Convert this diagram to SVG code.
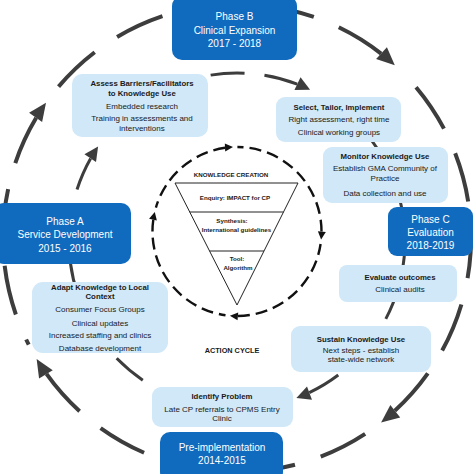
<svg xmlns="http://www.w3.org/2000/svg" width="474" height="474" viewBox="0 0 474 474">
<style>
 .outer{fill:none;stroke:#3d3d3d;stroke-width:4;stroke-dasharray:50 27}
 .mid{fill:none;stroke:#3d3d3d;stroke-width:3;stroke-dasharray:34 20}
 .inner{fill:none;stroke:#111;stroke-width:2.4;stroke-dasharray:12 6}
 .ah{fill:#3d3d3d}
 .ahk{fill:#111}
 .dark{fill:#106BBE}
 .light{fill:#D0E8F8}
 .tri{fill:none;stroke:#222;stroke-width:1}
 text{font-family:"Liberation Sans",Arial,sans-serif;text-anchor:middle;fill:#1a1a1a}
 .ph{font-size:10px;fill:#fff}
 .t{font-size:7.8px;font-weight:bold}
 .b{font-size:8px}
 .k{font-size:6.2px;font-weight:bold}
 .ac{font-size:7.3px;font-weight:bold}
</style>
<defs>
 <polygon id="aho" points="0,0 -18,-8 -18,8"/>
 <polygon id="ahm" points="0,0 -14,-7 -14,7"/>
 <polygon id="ahn" points="0,0 -8,-4 -8,4"/>
</defs>
<rect width="474" height="474" fill="#fff"/>
<g id="connectors">
 <path class="outer" d="M381.1,53.6 A234,234 0 0 0 55.9,89.8"/>
 <path class="outer" d="M394.8,410.8 A234,234 0 0 0 406.5,76.6"/>
 <path class="outer" d="M46.5,373.9 A234,234 0 0 0 367.9,432.0"/>
 <path class="outer" d="M36.2,117.8 A234,234 0 0 0 28.7,344.6"/>
 <use href="#aho" class="ah" transform="translate(46.0,102.8) rotate(-54.7)"/>
 <use href="#aho" class="ah" transform="translate(394.8,65.2) rotate(42.4)"/>
 <use href="#aho" class="ah" transform="translate(381.1,422.4) rotate(142)"/>
 <use href="#aho" class="ah" transform="translate(36.6,358.9) rotate(238.9)"/>
 <path class="mid" d="M297.2,84.2 A168,168 0 0 0 105.0,137.1"/>
 <path class="mid" d="M309.3,392.6 A168,168 0 0 0 320.5,95.2"/>
 <path class="mid" d="M90.6,158.5 A168,168 0 0 0 285.3,401.9"/>
 <use href="#ahm" class="ah" transform="translate(98.1,146.6) rotate(-55.8)"/>
 <use href="#ahm" class="ah" transform="translate(310.1,89.7) rotate(25.8)"/>
 <use href="#ahm" class="ah" transform="translate(296.4,398.1) rotate(159.3)"/>
 <path class="inner" d="M321.5,231.6 A84.5,84.5 0 0 0 237.4,147.0"/>
 <path class="inner" d="M237.9,316.0 A84.5,84.5 0 0 0 320.6,244.0"/>
 <path class="inner" d="M153.3,219.7 A84.5,84.5 0 0 0 225.5,315.2"/>
 <path class="inner" d="M225.1,147.8 A84.5,84.5 0 0 0 155.9,207.6"/>
 <use href="#ahn" class="ahk" transform="translate(233.0,147.1) rotate(-2.7)"/>
 <use href="#ahn" class="ahk" transform="translate(321.1,239.6) rotate(95.5)"/>
 <use href="#ahn" class="ahk" transform="translate(229.9,315.7) rotate(184.8)"/>
 <use href="#ahn" class="ahk" transform="translate(154.8,211.9) rotate(283.4)"/>
</g>
<g id="knowledge-creation">
 <polygon class="tri" points="175,183 298,183 237,305"/>
 <line class="tri" x1="189.7" y1="212" x2="283.5" y2="212"/>
 <line class="tri" x1="209.6" y1="251" x2="264" y2="251"/>
 <text class="k" x="231" y="176.5">KNOWLEDGE CREATION</text>
 <text class="k" x="235" y="200">Enquiry: IMPACT for CP</text>
 <text class="k" x="232" y="223">Synthesis:</text>
 <text class="k" x="236.5" y="231.5">International guidelines</text>
 <text class="k" x="237" y="260.5">Tool:</text>
 <text class="k" x="238" y="270">Algorithm</text>
</g>
<g id="action-cycle"><text class="ac" x="232" y="352.5">ACTION CYCLE</text></g>
<g id="phase-b">
 <rect class="dark" x="172" y="-4" width="125" height="64" rx="10"/>
 <text class="ph" x="234.5" y="19.5">Phase B</text>
 <text class="ph" x="234.5" y="34">Clinical Expansion</text>
 <text class="ph" x="234.5" y="47">2017 - 2018</text>
</g>
<g id="phase-a">
 <rect class="dark" x="-6" y="203" width="137" height="61" rx="10"/>
 <text class="ph" x="65" y="224.5">Phase A</text>
 <text class="ph" x="65" y="238">Service Development</text>
 <text class="ph" x="65" y="251.5">2015 - 2016</text>
</g>
<g id="phase-c">
 <rect class="dark" x="388" y="207" width="85" height="49" rx="9"/>
 <text class="ph" x="430.5" y="222.5">Phase C</text>
 <text class="ph" x="430.5" y="236">Evaluation</text>
 <text class="ph" x="430.5" y="248.5">2018-2019</text>
</g>
<g id="pre-implementation">
 <rect class="dark" x="160" y="432" width="123" height="50" rx="10"/>
 <text class="ph" x="222" y="450.5">Pre-implementation</text>
 <text class="ph" x="222" y="463.5">2014-2015</text>
</g>
<g id="assess">
 <rect class="light" x="72" y="74" width="136" height="63" rx="10"/>
 <text class="t" x="142" y="86">Assess Barriers/Facilitators</text>
 <text class="t" x="142" y="96">to Knowledge Use</text>
 <text class="b" x="142" y="109">Embedded research</text>
 <text class="b" x="142" y="121">Training in assessments and</text>
 <text class="b" x="142" y="131">interventions</text>
</g>
<g id="select">
 <rect class="light" x="276" y="97" width="125" height="45" rx="9"/>
 <text class="t" x="339" y="110">Select, Tailor, Implement</text>
 <text class="b" x="339" y="122">Right assessment, right time</text>
 <text class="b" x="339" y="135">Clinical working groups</text>
</g>
<g id="monitor">
 <rect class="light" x="323" y="147" width="125" height="56" rx="9"/>
 <text class="t" x="385" y="159">Monitor Knowledge Use</text>
 <text class="b" x="385" y="171">Establish GMA Community of</text>
 <text class="b" x="385" y="181">Practice</text>
 <text class="b" x="385" y="196">Data collection and use</text>
</g>
<g id="evaluate">
 <rect class="light" x="339" y="265" width="118" height="37" rx="8"/>
 <text class="t" x="400" y="280">Evaluate outcomes</text>
 <text class="b" x="400" y="292">Clinical audits</text>
</g>
<g id="sustain">
 <rect class="light" x="291" y="326" width="140" height="46" rx="9"/>
 <text class="t" x="361" y="342">Sustain Knowledge Use</text>
 <text class="b" x="361" y="353">Next steps - establish</text>
 <text class="b" x="361" y="362">state-wide network</text>
</g>
<g id="identify">
 <rect class="light" x="152" y="387" width="141" height="40" rx="9"/>
 <text class="t" x="222" y="398.5">Identify Problem</text>
 <text class="b" x="222" y="412">Late CP referrals to CPMS Entry</text>
 <text class="b" x="222" y="420.5">Clinic</text>
</g>
<g id="adapt">
 <rect class="light" x="32" y="282" width="136" height="71" rx="11"/>
 <text class="t" x="100" y="290">Adapt Knowledge to Local</text>
 <text class="t" x="100" y="299">Context</text>
 <text class="b" x="100" y="312">Consumer Focus Groups</text>
 <text class="b" x="100" y="326">Clinical updates</text>
 <text class="b" x="100" y="338">Increased staffing and clinics</text>
 <text class="b" x="100" y="351">Database development</text>
</g>
</svg>
